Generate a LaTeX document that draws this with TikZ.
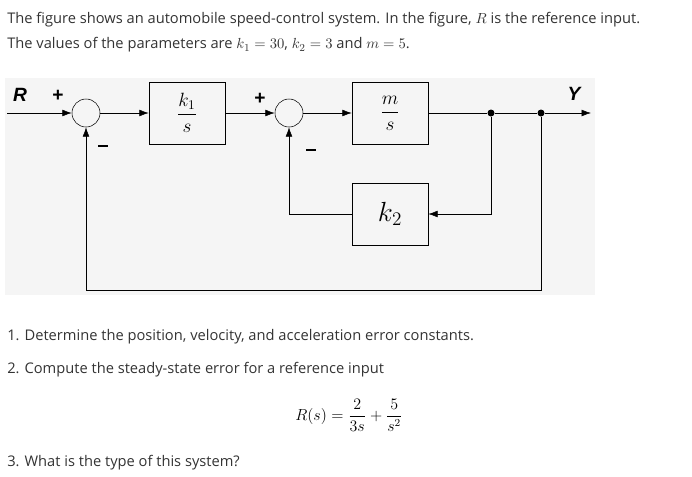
\documentclass[tikz,border=0pt]{standalone}
\usepackage{fontspec,amsmath}
\setmainfont{Open Sans}
\newfontfamily\signfont{Liberation Sans}
\usetikzlibrary{positioning,calc,arrows.meta}
\begin{document}
\begin{tikzpicture}[x=0.75pt,y=-0.75pt,
   blk/.style={draw,minimum width=76*0.75pt,minimum height=62*0.75pt,inner sep=0pt},
   sm/.style={draw,circle,minimum size=28*0.75pt,inner sep=0pt},
   dot/.style={circle,fill,inner sep=0pt,minimum size=7*0.75pt},
   sgn/.style={font=\signfont\bfseries\Large},
   txt/.style={anchor=west,font=\fontsize{11pt}{13pt}\selectfont,text=black!80,inner sep=0pt},
   >={Latex[length=7pt,width=5pt]}]
 \useasboundingbox (0,0) rectangle (692,476);
 \fill[black!4] (5,78) rectangle (595,295);
 % question text
 \node[txt] (t1) at (7,20) {The figure shows an automobile speed-control system. In the figure, $R$ is the reference input.};
 \node[txt] (t2) at (7,45) {The values of the parameters are $k_1=30$, $k_2=3$ and $m=5$.};
 % blocks
 \node[sm] (s1) at (86,113) {};
 \node[blk] (g1) at (187,113) {\Large $\dfrac{k_1}{s}$};
 \node[sm] (s2) at (289,113) {};
 \node[blk] (g2) at (390,113) {\Large $\dfrac{m}{s}$};
 \node[blk] (h) at (390,214) {\huge $k_2$};
 \node[dot] (d1) at (491,113) {};
 \node[dot] (d2) at (541,113) {};
 \coordinate (in) at (7,113);
 \coordinate (out) at (591,113);
 \coordinate (c1) at (491,214);
 \coordinate (c2) at (289,214);
 \coordinate (c3) at (541,290);
 \coordinate (c4) at (86,290);
 % connectors
 \draw[->] (in) -- (s1);
 \draw[->] (s1) -- (g1);
 \draw[->] (g1) -- (s2);
 \draw[->] (s2) -- (g2);
 \draw (g2) -- (d1) -- (d2);
 \draw[->] (d2) -- (out);
 \draw[->] (d1) -- (c1) -- (h);
 \draw[->] (h) -- (c2) -- (s2);
 \draw[->] (d2) -- (c3) -- (c4) -- (s1);
 % signs
 \node[sgn] (R) at (20,95) {\itshape R};
 \node[sgn] (p1) at (58,96) {+};
 \node[sgn] (m1) at (103,146) {\rule{7.5pt}{2.2pt}};
 \node[sgn] (p2) at (260,99) {+};
 \node[sgn] (m2) at (311,150) {\rule{7.5pt}{2.2pt}};
 \node[sgn] (Y) at (574,94) {\itshape Y};
 % questions
 \node[txt] (q1) at (7,337) {1. Determine the position, velocity, and acceleration error constants.};
 \node[txt] (q2) at (7,370) {2. Compute the steady-state error for a reference input};
 \node[font=\large] (eq) at (349,415) {$R(s)=\dfrac{2}{3s}+\dfrac{5}{s^2}$};
 \node[txt] (q3) at (7,463) {3. What is the type of this system?};
\end{tikzpicture}
\end{document}
